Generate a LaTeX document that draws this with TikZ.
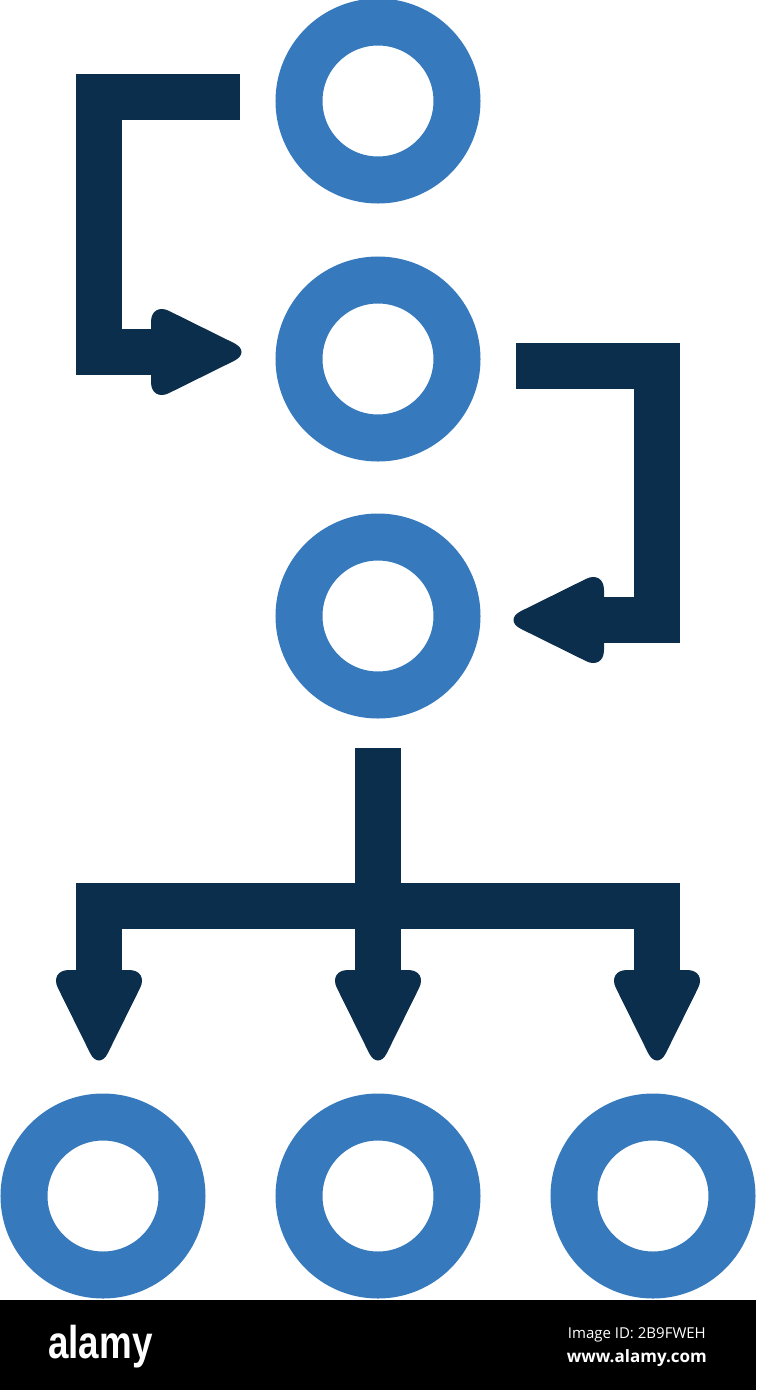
\documentclass[tikz,border=0pt]{standalone}
\usepackage{fontspec}
\setmainfont{Open Sans}
\newfontfamily\logofont{Liberation Sans}
\definecolor{navy}{HTML}{0C2E4D}
\definecolor{ringblue}{HTML}{367ABD}
\begin{document}
\begin{tikzpicture}[x=1pt,y=-1pt,
  ring/.style={circle, draw=ringblue, line width=47pt, minimum size=158pt, inner sep=0pt},
  pipe/.style={draw=navy, line width=46pt, line join=miter, line cap=butt},
  head/.pic={\fill[navy, rounded corners=20pt] (-1,-50) -- (100,0) -- (-1,50) -- cycle;},
  wm/.style={text=white, inner sep=0pt}
]
\useasboundingbox (0,0) rectangle (756,1390);
% rings
\node[ring] (c1) at (378,101) {};
\node[ring] (c2) at (378,359) {};
\node[ring] (c3) at (378,616) {};
\node[ring] (d1) at (103,1196) {};
\node[ring] (d2) at (378,1196) {};
\node[ring] (d3) at (653,1196) {};
% left bracket: into c2
\coordinate (ls) at (240,97);
\coordinate (lc) at (99,97);
\coordinate (lh) at (158,352);
\draw[pipe] (ls) -- (lc) |- (lh);
\pic at (152,352) {head};
% right bracket: into c3
\coordinate (rs) at (516,366);
\coordinate (rc) at (657,366);
\coordinate (rh) at (597,620);
\draw[pipe] (rs) -- (rc) |- (rh);
\pic[rotate=180] at (603,620) {head};
% tree from c3 to bottom rings
\coordinate (t0) at (378,748);
\coordinate (j) at (378,906);
\coordinate (hL) at (99,978);
\coordinate (hM) at (378,978);
\coordinate (hR) at (657,978);
\draw[pipe] (t0) -- (hM);
\draw[pipe] (hL) |- (j) -| (hR);
\pic[rotate=-90] at (99,971) {head};
\pic[rotate=-90] at (378,971) {head};
\pic[rotate=-90] at (657,971) {head};
% footer
\fill[black] (0,1300) rectangle (756,1390);
\node[wm, anchor=base west, font=\logofont\bfseries\fontsize{46}{46}\selectfont, xscale=0.8] (logo) at (48,1358) {alamy};
\node[wm, anchor=base east, font=\fontsize{15}{15}\selectfont] (imgid) at (706,1338) {Image ID: 2B9FWEH};
\node[wm, anchor=base east, font=\bfseries\fontsize{17}{17}\selectfont] (www) at (707,1362) {www.alamy.com};
\end{tikzpicture}
\end{document}
